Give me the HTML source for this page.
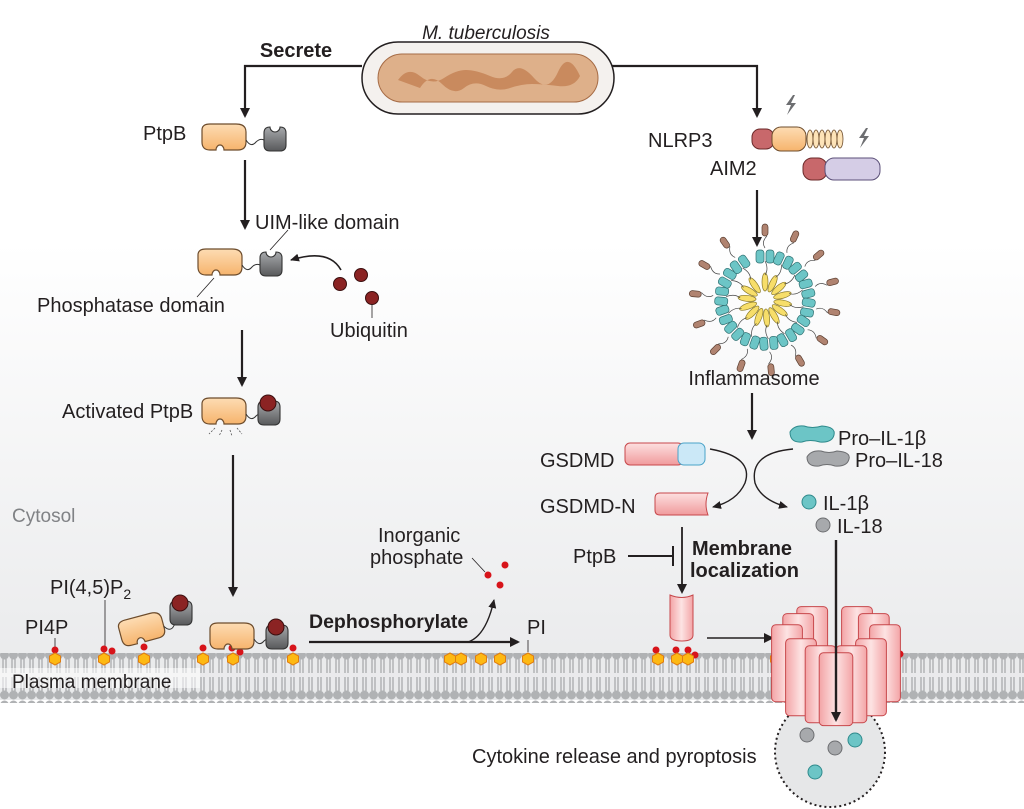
<!DOCTYPE html>
<html><head><meta charset="utf-8"><style>
html,body{margin:0;padding:0;background:#fff}
svg{display:block}
text{font-family:"Liberation Sans",sans-serif;fill:#231f20}
</style></head><body>
<svg width="1024" height="809" viewBox="0 0 1024 809" xmlns="http://www.w3.org/2000/svg">
<defs>
<linearGradient id="bg" x1="0" y1="0" x2="0" y2="1">
<stop offset="0" stop-color="#ffffff"/><stop offset="0.3" stop-color="#ffffff"/><stop offset="1" stop-color="#e3e4e6"/>
</linearGradient>
<linearGradient id="or" x1="0" y1="0" x2="0" y2="1"><stop offset="0" stop-color="#fddcb3"/><stop offset="1" stop-color="#f6b46d"/></linearGradient>
<linearGradient id="gr" x1="0" y1="0" x2="0" y2="1"><stop offset="0" stop-color="#a7a9ac"/><stop offset="1" stop-color="#58595b"/></linearGradient>
<linearGradient id="pk" x1="0" y1="0" x2="0" y2="1"><stop offset="0" stop-color="#fde0e0"/><stop offset="1" stop-color="#f09a9c"/></linearGradient>
<linearGradient id="pkh" x1="0" y1="0" x2="1" y2="0"><stop offset="0" stop-color="#f3a4a6"/><stop offset="0.5" stop-color="#fde3e3"/><stop offset="1" stop-color="#f3a4a6"/></linearGradient>
<marker id="ah" markerWidth="10" markerHeight="10" refX="8" refY="5" orient="auto" markerUnits="userSpaceOnUse"><path d="M0,0 L10,5 L0,10 z" fill="#231f20"/></marker>
<marker id="ahs" markerWidth="9" markerHeight="8" refX="8" refY="4" orient="auto" markerUnits="userSpaceOnUse"><path d="M0,0 L9,4 L0,8 z" fill="#231f20"/></marker>
<g id="ptpb">
<path d="M0,4 q0,-6 8,-6 h26 q10,0 10,8 v10 q0,8 -8,8 h-14 a4,5 0 0 0 -8,0 h-6 q-8,0 -8,-8 z" fill="url(#or)" stroke="#6d4c2c" stroke-width="1.2"/>
<path d="M44,14 q5,8 10,2 q4,-4 8,-2" fill="none" stroke="#333" stroke-width="1"/>
</g>
<g id="uim"><path d="M0,4 q0,-6 6,-6 a5,5 0 0 0 10,0 q6,0 6,6 v12 q0,6 -6,6 h-10 q-6,0 -6,-6 z" fill="url(#gr)" stroke="#333" stroke-width="1.1"/></g>
<g id="pip"><polygon points="0,-6 5.5,-3 5.5,3 0,6 -5.5,3 -5.5,-3" fill="#fdb913" stroke="#e07d10" stroke-width="1"/></g>
<pattern id="mem" width="9" height="50" patternUnits="userSpaceOnUse">
<circle cx="4.5" cy="5" r="4.5" fill="#b0b2b4"/><circle cx="4.5" cy="45" r="4.5" fill="#b0b2b4"/>
<path d="M3,9 v14 M6,9 v14 M3,27 v14 M6,27 v14" stroke="#a3a5a7" stroke-width="1.2"/>
</pattern>
</defs>
<rect width="1024" height="809" fill="url(#bg)"/>
<rect y="700" width="1024" height="109" fill="#fff"/>
<rect x="0" y="653" width="1024" height="50" fill="url(#mem)"/>
<rect x="0" y="668" width="200" height="20" fill="#fff" opacity="0.55"/>
<text x="12" y="688" font-size="19" fill="#6d6e71">Plasma membrane</text>
<text x="12" y="522" font-size="19" style="fill:#808285">Cytosol</text>

<text x="486" y="39" font-size="19" font-style="italic" text-anchor="middle">M. tuberculosis</text>
<rect x="362" y="42" width="252" height="72" rx="36" fill="#f4f1ee" stroke="#231f20" stroke-width="1.5"/>
<rect x="378" y="54" width="220" height="48" rx="24" fill="#deb08a" stroke="#a56b45" stroke-width="1"/>
<path d="M398,80 q10,-14 22,-4 t24,2 t22,-8 t24,6 t22,-4 t22,6 t24,-6 t22,4 q-6,12 -22,10 t-26,-2 t-22,4 t-24,-2 t-22,2 t-22,-4 t-22,4 z" fill="#c98a5e"/>
<text x="296" y="57" font-size="20" font-weight="bold" text-anchor="middle">Secrete</text>
<path d="M362,66 H245 V116" fill="none" stroke="#231f20" stroke-width="2.2" marker-end="url(#ah)"/>
<path d="M612,66 H757 V116" fill="none" stroke="#231f20" stroke-width="2.2" marker-end="url(#ah)"/>

<text x="143" y="140" font-size="20">PtpB</text>
<use href="#ptpb" x="202" y="126"/><use href="#uim" x="264" y="129"/>
<line x1="245" y1="160" x2="245" y2="228" stroke="#231f20" stroke-width="2.2" marker-end="url(#ah)"/>
<text x="255" y="229" font-size="20">UIM-like domain</text>
<line x1="270" y1="250" x2="288" y2="230" stroke="#231f20" stroke-width="0.8"/>
<use href="#ptpb" x="198" y="251"/><use href="#uim" x="260" y="254"/>
<text x="37" y="312" font-size="20">Phosphatase domain</text>
<line x1="197" y1="297" x2="214" y2="278" stroke="#231f20" stroke-width="0.8"/>
<path d="M341,270 q-12,-22 -50,-10" fill="none" stroke="#231f20" stroke-width="1.6" marker-end="url(#ahs)"/>
<circle cx="340" cy="284" r="6.5" fill="#8b2323" stroke="#3b0f0f"/><circle cx="361" cy="275" r="6.5" fill="#8b2323" stroke="#3b0f0f"/><circle cx="372" cy="298" r="6.5" fill="#8b2323" stroke="#3b0f0f"/>
<line x1="372" y1="304" x2="372" y2="318" stroke="#231f20" stroke-width="0.8"/>
<text x="330" y="337" font-size="20">Ubiquitin</text>
<line x1="242" y1="330" x2="242" y2="385" stroke="#231f20" stroke-width="2.2" marker-end="url(#ah)"/>
<text x="62" y="418" font-size="20">Activated PtpB</text>
<use href="#ptpb" x="202" y="400"/><use href="#uim" x="258" y="403"/>
<circle cx="268" cy="403" r="8" fill="#8b2323" stroke="#3b0f0f"/>
<path d="M215,428 l-6,6 M222,430 l-3,6 M230,430 l2,6 M237,428 l5,6" stroke="#555" stroke-width="0.8" stroke-dasharray="2,1.5"/>
<line x1="233" y1="455" x2="233" y2="595" stroke="#231f20" stroke-width="2.2" marker-end="url(#ah)"/>

<text x="50" y="594" font-size="20">PI(4,5)P<tspan font-size="14" dy="5">2</tspan></text>
<line x1="105" y1="600" x2="105" y2="646" stroke="#231f20" stroke-width="0.8"/>
<text x="25" y="634" font-size="20">PI4P</text>
<line x1="55" y1="638" x2="55" y2="650" stroke="#231f20" stroke-width="0.8"/>
<g fill="#d7141a">
<circle cx="55" cy="650" r="3.5"/><circle cx="104" cy="649" r="3.5"/><circle cx="112" cy="651" r="3.5"/><circle cx="144" cy="647" r="3.5"/>
<circle cx="203" cy="648" r="3.5"/><circle cx="232" cy="648" r="3.5"/><circle cx="240" cy="652" r="3.5"/><circle cx="293" cy="648" r="3.5"/>
<circle cx="656" cy="650" r="3.5"/><circle cx="676" cy="650" r="3.5"/><circle cx="688" cy="650" r="3.5"/><circle cx="695" cy="655" r="3.5"/>
<circle cx="776" cy="650" r="3.5"/><circle cx="786" cy="651" r="3.5"/><circle cx="882" cy="650" r="3.5"/><circle cx="893" cy="650" r="3.5"/><circle cx="900" cy="654" r="3.5"/>
<circle cx="488" cy="575" r="3.5"/><circle cx="505" cy="565" r="3.5"/><circle cx="500" cy="585" r="3.5"/>
</g>
<g>
<use href="#pip" x="55" y="659"/><use href="#pip" x="104" y="659"/><use href="#pip" x="144" y="659"/><use href="#pip" x="203" y="659"/><use href="#pip" x="233" y="659"/><use href="#pip" x="293" y="659"/>
<use href="#pip" x="450" y="659"/><use href="#pip" x="461" y="659"/><use href="#pip" x="481" y="659"/><use href="#pip" x="500" y="659"/><use href="#pip" x="528" y="659"/>
<use href="#pip" x="658" y="659"/><use href="#pip" x="677" y="659"/><use href="#pip" x="688" y="659"/>
<use href="#pip" x="776" y="659"/><use href="#pip" x="787" y="659"/><use href="#pip" x="883" y="659"/><use href="#pip" x="893" y="659"/>
</g>
<use href="#ptpb" x="120" y="618" transform="rotate(-15 142 630)"/><use href="#uim" x="170" y="603"/>
<circle cx="180" cy="603" r="8" fill="#8b2323" stroke="#3b0f0f"/>
<use href="#ptpb" x="210" y="625"/><use href="#uim" x="266" y="627"/>
<circle cx="276" cy="627" r="8" fill="#8b2323" stroke="#3b0f0f"/>
<text x="309" y="628" font-size="19.5" font-weight="bold">Dephosphorylate</text>
<line x1="309" y1="642" x2="518" y2="642" stroke="#231f20" stroke-width="2.2" marker-end="url(#ah)"/>
<path d="M468,642 q18,-6 26,-42" fill="none" stroke="#231f20" stroke-width="1.4" marker-end="url(#ahs)"/>
<text x="378" y="542" font-size="20">Inorganic</text>
<text x="370" y="564" font-size="20">phosphate</text>
<line x1="472" y1="558" x2="485" y2="572" stroke="#231f20" stroke-width="0.8"/>
<text x="527" y="634" font-size="20">PI</text>
<line x1="528" y1="640" x2="528" y2="652" stroke="#231f20" stroke-width="0.8"/>

<text x="648" y="147" font-size="20">NLRP3</text>
<rect x="752" y="129" width="22" height="20" rx="8" fill="#c8686b" stroke="#6b2a2a"/>
<rect x="772" y="127" width="34" height="24" rx="9" fill="url(#or)" stroke="#6d4c2c"/>
<g fill="#fde3b8" stroke="#6d4c2c" stroke-width="0.8">
<ellipse cx="810" cy="139" rx="3" ry="9"/><ellipse cx="816" cy="139" rx="3" ry="9"/><ellipse cx="822" cy="139" rx="3" ry="9"/><ellipse cx="828" cy="139" rx="3" ry="9"/><ellipse cx="834" cy="139" rx="3" ry="9"/><ellipse cx="840" cy="139" rx="3" ry="9"/></g>
<path d="M793,95 l-7,10 h5 l-4,10 l9,-12 h-5 l4,-8 z" fill="#6d6e71"/>
<path d="M866,128 l-7,10 h5 l-4,10 l9,-12 h-5 l4,-8 z" fill="#6d6e71"/>
<text x="710" y="175" font-size="20">AIM2</text>
<rect x="803" y="158" width="24" height="22" rx="9" fill="#c8686b" stroke="#6b2a2a"/>
<rect x="825" y="158" width="55" height="22" rx="9" fill="#d5cde6" stroke="#5b4f78"/>
<line x1="757" y1="190" x2="757" y2="245" stroke="#231f20" stroke-width="2.2" marker-end="url(#ah)"/>

<g transform="translate(765,300)">
<g id="spoke">
<ellipse cx="0" cy="-18" rx="3" ry="9" fill="#f7de6a" stroke="#8a7a2a" stroke-width="0.7"/>
<path d="M0,-27 q4,8 0,14" fill="none" stroke="#444" stroke-width="0.7" transform="translate(0,-12)"/>
<rect x="-9" y="-50" width="8" height="13" rx="3" fill="#6cc5c6" stroke="#2f6f70" stroke-width="0.7"/>
<rect x="1" y="-50" width="8" height="13" rx="3" fill="#6cc5c6" stroke="#2f6f70" stroke-width="0.7"/>
<path d="M0,-52 q-4,-6 2,-12" fill="none" stroke="#444" stroke-width="0.7"/>
<rect x="-3" y="-76" width="6" height="12" rx="3" fill="#b08370" stroke="#5a3e30" stroke-width="0.7"/>
</g>
<use href="#spoke" transform="rotate(25)"/><use href="#spoke" transform="rotate(50)"/><use href="#spoke" transform="rotate(75)"/><use href="#spoke" transform="rotate(100)"/><use href="#spoke" transform="rotate(125)"/><use href="#spoke" transform="rotate(150)"/><use href="#spoke" transform="rotate(175)"/><use href="#spoke" transform="rotate(200)"/><use href="#spoke" transform="rotate(225)"/><use href="#spoke" transform="rotate(250)"/><use href="#spoke" transform="rotate(275)"/><use href="#spoke" transform="rotate(300)"/><use href="#spoke" transform="rotate(325)"/>
</g>
<text x="754" y="385" font-size="20" text-anchor="middle">Inflammasome</text>
<line x1="752" y1="393" x2="752" y2="438" stroke="#231f20" stroke-width="2.2" marker-end="url(#ah)"/>

<text x="540" y="467" font-size="20">GSDMD</text>
<rect x="625" y="443" width="58" height="22" rx="5" fill="url(#pk)" stroke="#c7474b"/>
<rect x="678" y="443" width="27" height="22" rx="6" fill="#cbe8f7" stroke="#4aa3c8"/>
<text x="540" y="513" font-size="20">GSDMD-N</text>
<path d="M660,493 h48 q-4,11 0,22 h-48 q-5,0 -5,-5 v-12 q0,-5 5,-5 z" fill="url(#pk)" stroke="#c7474b"/>
<path d="M710,449 q44,8 35,34 q-8,18 -32,24" fill="none" stroke="#231f20" stroke-width="1.4" marker-end="url(#ahs)"/>
<path d="M793,449 q-44,4 -38,34 q6,17 32,24" fill="none" stroke="#231f20" stroke-width="1.4" marker-end="url(#ahs)"/>
<path d="M790,432 q4,-7 14,-6 q8,3 18,0 q14,1 12,9 q-2,8 -14,7 q-10,-3 -18,0 q-12,1 -12,-10 z" fill="#6cc5c6" stroke="#2f8a8c"/>
<text x="838" y="445" font-size="20">Pro–IL-1β</text>
<path d="M807,457 q4,-7 14,-6 q8,3 16,0 q14,1 12,8 q-2,8 -14,7 q-8,-3 -16,0 q-12,1 -12,-9 z" fill="#a7a9ac" stroke="#6d6e71"/>
<text x="855" y="467" font-size="20">Pro–IL-18</text>
<circle cx="809" cy="502" r="7" fill="#6cc5c6" stroke="#2f8a8c"/>
<text x="823" y="510" font-size="20">IL-1β</text>
<circle cx="823" cy="525" r="7" fill="#a7a9ac" stroke="#6d6e71"/>
<text x="837" y="533" font-size="20">IL-18</text>

<text x="573" y="563" font-size="20">PtpB</text>
<line x1="628" y1="556" x2="672" y2="556" stroke="#231f20" stroke-width="2"/>
<line x1="673" y1="546" x2="673" y2="566" stroke="#231f20" stroke-width="2"/>
<line x1="682" y1="527" x2="682" y2="592" stroke="#231f20" stroke-width="1.8" marker-end="url(#ah)"/>
<text x="692" y="555" font-size="20" font-weight="bold">Membrane</text>
<text x="690" y="577" font-size="20" font-weight="bold">localization</text>
<path d="M670,595 q12,5 23,0 v40 q0,6 -11,6 q-12,0 -12,-6 z" fill="url(#pkh)" stroke="#c7474b"/>
<line x1="707" y1="638" x2="772" y2="638" stroke="#231f20" stroke-width="1.6" marker-end="url(#ah)"/>

<circle cx="830" cy="752" r="55" fill="#e6e7e8" stroke="#231f20" stroke-width="2" stroke-dasharray="2,3"/>
<circle cx="807" cy="735" r="7" fill="#a7a9ac" stroke="#6d6e71"/>
<circle cx="835" cy="748" r="7" fill="#a7a9ac" stroke="#6d6e71"/>
<circle cx="855" cy="740" r="7" fill="#6cc5c6" stroke="#2f8a8c"/>
<circle cx="815" cy="772" r="7" fill="#6cc5c6" stroke="#2f8a8c"/>
<g transform="translate(836,664) scale(1.4) translate(-836,-668)">
<g stroke="#c7474b" stroke-width="0.7" fill="url(#pkh)">
<rect x="808" y="627" width="22" height="48" rx="3"/><rect x="840" y="627" width="22" height="48" rx="3"/>
<rect x="798" y="632" width="22" height="52" rx="3"/><rect x="852" y="632" width="22" height="52" rx="3"/>
<rect x="790" y="640" width="22" height="55" rx="3"/><rect x="860" y="640" width="22" height="55" rx="3"/>
<rect x="800" y="650" width="22" height="55" rx="3"/><rect x="850" y="650" width="22" height="55" rx="3"/>
<rect x="814" y="655" width="22" height="55" rx="3"/><rect x="836" y="655" width="22" height="55" rx="3"/>
<rect x="824" y="660" width="24" height="52" rx="3"/>
</g></g>
<line x1="836" y1="540" x2="836" y2="720" stroke="#231f20" stroke-width="2.4" marker-end="url(#ah)"/>
<text x="472" y="763" font-size="20">Cytokine release and pyroptosis</text>
</svg>
</body></html>
